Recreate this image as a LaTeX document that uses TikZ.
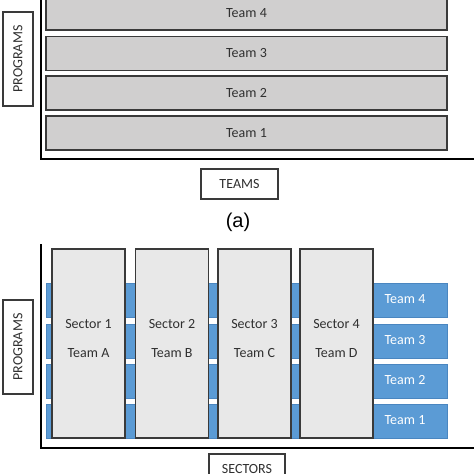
\documentclass[tikz,border=0pt]{standalone}
\usepackage{fontspec}
\setmainfont{Carlito}
\newfontfamily\arialfont{Liberation Sans}
\usepackage{xcolor}
\usepackage{tikz}
\definecolor{bargray}{HTML}{D0CFCF}
\definecolor{sectorgray}{HTML}{E8E8E8}
\definecolor{teamblue}{HTML}{5B9BD5}
\definecolor{blueedge}{HTML}{4A86C0}
\definecolor{edgegray}{HTML}{3A3A3A}
\definecolor{textgray}{HTML}{303030}

\begin{document}
\begin{tikzpicture}[x=1pt,y=-1pt,
    labeltext/.style={text=textgray,font=\fontsize{14}{16}\selectfont},
    graybar/.style={labeltext,draw=edgegray,line width=1.3pt,fill=bargray,minimum width=401pt,minimum height=34pt,inner sep=0pt},
    bluebar/.style={draw=blueedge,line width=0.6pt,fill=teamblue,minimum width=401pt,minimum height=34pt,inner sep=0pt},
    bluetext/.style={text=white,font=\fontsize{14}{16}\selectfont},
    sectorbox/.style={draw=edgegray,line width=1.3pt,fill=sectorgray,minimum width=73pt,minimum height=189pt,inner sep=0pt},
    sectortext/.style={text=textgray,align=center,font=\fontsize{14}{29}\selectfont},
    axisbox/.style={labeltext,draw=edgegray,line width=1.3pt,fill=white,minimum height=30pt,inner sep=0pt}]
    \useasboundingbox (0,0) rectangle (474,474);
    % (a) one bar per team
    \draw[line width=1.5pt] (41,-2) -- (41,159) -- (476,159);
    \node[graybar] (team4) at (246.5,13) {Team 4};
    \node[graybar] (team3) at (246.5,53.5) {Team 3};
    \node[graybar] (team2) at (246.5,93) {Team 2};
    \node[graybar] (team1) at (246.5,133) {Team 1};
    \node[axisbox,rotate=90,minimum width=94pt] (programsA) at (18,59) {PROGRAMS};
    \node[axisbox,minimum width=77pt] (teams) at (239.5,184) {TEAMS};
    \node[font=\arialfont\fontsize{20}{22}\selectfont,text=black] (caption) at (238,222) {(a)};
    % (b) sectors across the teams
    \draw[line width=1.5pt] (41,244) -- (41,448) -- (476,448);
    \node[bluebar] (blue4) at (246.5,300) {};
    \node[bluebar] (blue3) at (246.5,341) {};
    \node[bluebar] (blue2) at (246.5,381) {};
    \node[bluebar] (blue1) at (246.5,421) {};
    \node[bluetext] (lab4) at (405,299) {Team 4};
    \node[bluetext] (lab3) at (405,340) {Team 3};
    \node[bluetext] (lab2) at (405,380) {Team 2};
    \node[bluetext] (lab1) at (405,420) {Team 1};
    \node[sectorbox] (sector1) at (88.5,343.5) {};
    \node[sectorbox] (sector2) at (172,343.5) {};
    \node[sectorbox] (sector3) at (254.5,343.5) {};
    \node[sectorbox] (sector4) at (336.5,343.5) {};
    \node[sectortext] (sec1) at (88.5,338.5) {Sector 1\\Team A};
    \node[sectortext] (sec2) at (172,338.5) {Sector 2\\Team B};
    \node[sectortext] (sec3) at (254.5,338.5) {Sector 3\\Team C};
    \node[sectortext] (sec4) at (336.5,338.5) {Sector 4\\Team D};
    \node[axisbox,rotate=90,minimum width=94pt] (programsB) at (18,347) {PROGRAMS};
    \node[axisbox,minimum width=76pt] (sectors) at (247,469) {SECTORS};
\end{tikzpicture}
\end{document}
